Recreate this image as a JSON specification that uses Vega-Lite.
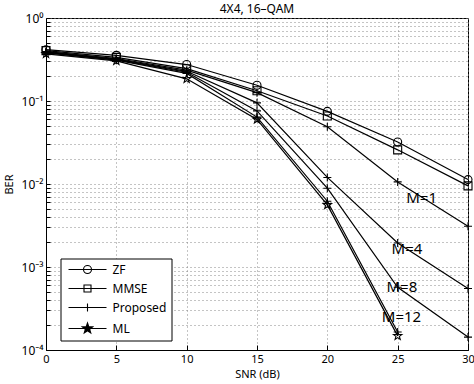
{
  "$schema": "https://vega.github.io/schema/vega-lite/v6.json",
  "autosize": {"type": "none"},
  "width": 422,
  "height": 332,
  "padding": {"left": 46, "top": 18, "right": 6, "bottom": 34},
  "background": "white",
  "title": {"text": "4X4, 16–QAM", "fontSize": 12, "fontWeight": "normal", "font": "Noto Sans", "offset": -4, "color": "black"},
  "datasets": {
    "curves": [
      {"snr": 0, "ber": 0.415, "series": "ZF", "method": "ZF"},
      {"snr": 5, "ber": 0.355, "series": "ZF", "method": "ZF"},
      {"snr": 10, "ber": 0.275, "series": "ZF", "method": "ZF"},
      {"snr": 15, "ber": 0.155, "series": "ZF", "method": "ZF"},
      {"snr": 20, "ber": 0.075, "series": "ZF", "method": "ZF"},
      {"snr": 25, "ber": 0.032, "series": "ZF", "method": "ZF"},
      {"snr": 30, "ber": 0.0113, "series": "ZF", "method": "ZF"},
      {"snr": 0, "ber": 0.405, "series": "MMSE", "method": "MMSE"},
      {"snr": 5, "ber": 0.335, "series": "MMSE", "method": "MMSE"},
      {"snr": 10, "ber": 0.245, "series": "MMSE", "method": "MMSE"},
      {"snr": 15, "ber": 0.133, "series": "MMSE", "method": "MMSE"},
      {"snr": 20, "ber": 0.066, "series": "MMSE", "method": "MMSE"},
      {"snr": 25, "ber": 0.0258, "series": "MMSE", "method": "MMSE"},
      {"snr": 30, "ber": 0.0095, "series": "MMSE", "method": "MMSE"},
      {"snr": 0, "ber": 0.395, "series": "M1", "method": "Proposed"},
      {"snr": 5, "ber": 0.325, "series": "M1", "method": "Proposed"},
      {"snr": 10, "ber": 0.235, "series": "M1", "method": "Proposed"},
      {"snr": 15, "ber": 0.126, "series": "M1", "method": "Proposed"},
      {"snr": 20, "ber": 0.049, "series": "M1", "method": "Proposed"},
      {"snr": 25, "ber": 0.0106, "series": "M1", "method": "Proposed"},
      {"snr": 30, "ber": 0.0031, "series": "M1", "method": "Proposed"},
      {"snr": 0, "ber": 0.39, "series": "M4", "method": "Proposed"},
      {"snr": 5, "ber": 0.32, "series": "M4", "method": "Proposed"},
      {"snr": 10, "ber": 0.228, "series": "M4", "method": "Proposed"},
      {"snr": 15, "ber": 0.095, "series": "M4", "method": "Proposed"},
      {"snr": 20, "ber": 0.012, "series": "M4", "method": "Proposed"},
      {"snr": 25, "ber": 0.00195, "series": "M4", "method": "Proposed"},
      {"snr": 30, "ber": 0.00055, "series": "M4", "method": "Proposed"},
      {"snr": 0, "ber": 0.385, "series": "M8", "method": "Proposed"},
      {"snr": 5, "ber": 0.315, "series": "M8", "method": "Proposed"},
      {"snr": 10, "ber": 0.222, "series": "M8", "method": "Proposed"},
      {"snr": 15, "ber": 0.076, "series": "M8", "method": "Proposed"},
      {"snr": 20, "ber": 0.0089, "series": "M8", "method": "Proposed"},
      {"snr": 25, "ber": 0.00057, "series": "M8", "method": "Proposed"},
      {"snr": 30, "ber": 0.000143, "series": "M8", "method": "Proposed"},
      {"snr": 0, "ber": 0.38, "series": "M12", "method": "Proposed"},
      {"snr": 5, "ber": 0.31, "series": "M12", "method": "Proposed"},
      {"snr": 10, "ber": 0.215, "series": "M12", "method": "Proposed"},
      {"snr": 15, "ber": 0.064, "series": "M12", "method": "Proposed"},
      {"snr": 20, "ber": 0.0062, "series": "M12", "method": "Proposed"},
      {"snr": 25, "ber": 0.000165, "series": "M12", "method": "Proposed"},
      {"snr": 0, "ber": 0.37, "series": "ML", "method": "ML"},
      {"snr": 5, "ber": 0.305, "series": "ML", "method": "ML"},
      {"snr": 10, "ber": 0.185, "series": "ML", "method": "ML"},
      {"snr": 15, "ber": 0.06, "series": "ML", "method": "ML"},
      {"snr": 20, "ber": 0.0056, "series": "ML", "method": "ML"},
      {"snr": 25, "ber": 0.000148, "series": "ML", "method": "ML"}
    ],
    "notes": [
      {"x": 26.7, "y": 0.0067, "label": "M=1"},
      {"x": 25.66, "y": 0.00163, "label": "M=4"},
      {"x": 25.3, "y": 0.00058, "label": "M=8"},
      {"x": 25.27, "y": 0.00025, "label": "M=12"}
    ]
  },
  "encoding": {
    "x": {"field": "snr", "type": "quantitative", "scale": {"domain": [0, 30], "nice": false},
      "axis": {"title": "SNR (dB)", "values": [0, 5, 10, 15, 20, 25, 30], "grid": true, "tickSize": -5, "labelPadding": 8, "titlePadding": 4, "labelFlush": false, "labelOverlap": false, "labelBound": false}},
    "y": {"field": "ber", "type": "quantitative", "scale": {"type": "log", "domain": [0.0001, 1], "nice": false},
      "axis": {"title": "BER", "grid": true, "tickSize": -4, "labelPadding": 7, "titlePadding": 7, "labelFontSize": 12, "labelFlush": false, "labelOverlap": false,
        "values": [0.0001, 0.0002, 0.0003, 0.0004, 0.0005, 0.0006, 0.0007, 0.0008, 0.0009, 0.001, 0.002, 0.003, 0.004, 0.005, 0.006, 0.007, 0.008, 0.009, 0.01, 0.02, 0.03, 0.04, 0.05, 0.06, 0.07, 0.08, 0.09, 0.1, 0.2, 0.3, 0.4, 0.5, 0.6, 0.7, 0.8, 0.9, 1],
        "labelExpr": "datum.value==1?'10⁰':datum.value==0.1?'10⁻¹':datum.value==0.01?'10⁻²':datum.value==0.001?'10⁻³':datum.value==0.0001?'10⁻⁴':''"}}
  },
  "layer": [
    {
      "data": {"name": "curves"},
      "mark": {"type": "line", "color": "black", "strokeWidth": 1.2},
      "encoding": {"detail": {"field": "series"}}
    },
    {
      "data": {"name": "curves"},
      "mark": {"type": "point", "filled": false, "color": "black", "strokeWidth": 1.1, "size": 64, "opacity": 1},
      "encoding": {
        "shape": {"field": "method", "type": "nominal",
          "scale": {"domain": ["ZF", "MMSE", "Proposed", "ML"], "range": ["circle", "square", "M-1,0H1M0,-1V1", "M0,-1.1L0.26,-0.36L1.05,-0.34L0.43,0.14L0.65,0.89L0,0.45L-0.65,0.89L-0.43,0.14L-1.05,-0.34L-0.26,-0.36Z"]},
          "legend": null
        }
      }
    },
    {
      "data": {"name": "curves"},
      "mark": {"type": "point", "filled": false, "color": "black", "strokeWidth": 1, "size": 100, "opacity": 0},
      "encoding": {
        "shape": {"field": "method", "type": "nominal", "title": "legend",
          "scale": {"domain": ["ZF", "MMSE", "Proposed", "ML"], "range": [
            "M-3.8,0H3.8M-0.8,0A0.8,0.8 0 1,1 0.8,0A0.8,0.8 0 1,1 -0.8,0",
            "M-3.8,0H3.8M-0.7,-0.7H0.7V0.7H-0.7Z",
            "M-3.8,0H3.8M0,-0.8V0.8",
            "M-3.8,0H3.8M0,-1.1L0.26,-0.36L1.05,-0.34L0.43,0.14L0.65,0.89L0,0.45L-0.65,0.89L-0.43,0.14L-1.05,-0.34L-0.26,-0.36ZM0,-0.6L0.14,-0.2L0.58,-0.19L0.24,0.08L0.36,0.49L0,0.25L-0.36,0.49L-0.24,0.08L-0.58,-0.19L-0.14,-0.2ZM0,-0.33L0.08,-0.11L0.32,-0.1L0.13,0.04L0.2,0.27L0,0.14L-0.2,0.27L-0.13,0.04L-0.32,-0.1L-0.08,-0.11ZM0,0L0,-1.1M0,0L1.05,-0.34M0,0L0.65,0.89M0,0L-0.65,0.89M0,0L-1.05,-0.34"]},
          "legend": {"title": null, "orient": "none", "legendX": 14.5, "legendY": 240.5,
            "fillColor": "white", "strokeColor": "black", "padding": 5,
            "symbolSize": 100, "symbolOffset": 16, "labelOffset": 19, "rowPadding": 6,
            "labelFontSize": 12, "labelFont": "Noto Sans", "labelColor": "black",
            "symbolStrokeColor": "black", "symbolStrokeWidth": 1.1, "symbolOpacity": 1}
        }
      }
    },
    {
      "data": {"name": "notes"},
      "mark": {"type": "text", "font": "Noto Sans", "fontSize": 15, "color": "black", "align": "center", "baseline": "middle"},
      "encoding": {
        "x": {"field": "x", "type": "quantitative"},
        "y": {"field": "y", "type": "quantitative"},
        "text": {"field": "label"}
      }
    }
  ],
  "resolve": {"scale": {"shape": "independent"}},
  "config": {
    "view": {"stroke": "black", "strokeWidth": 1},
    "font": "Noto Sans",
    "axis": {"domainColor": "black", "tickColor": "black", "labelColor": "black", "titleColor": "black",
      "labelFont": "Noto Sans", "titleFont": "Noto Sans", "labelFontSize": 11, "titleFontSize": 11, "titleFontWeight": "normal",
      "gridColor": "#888888", "gridDash": [1, 3], "gridWidth": 1, "gridOpacity": 1}
  }
}
